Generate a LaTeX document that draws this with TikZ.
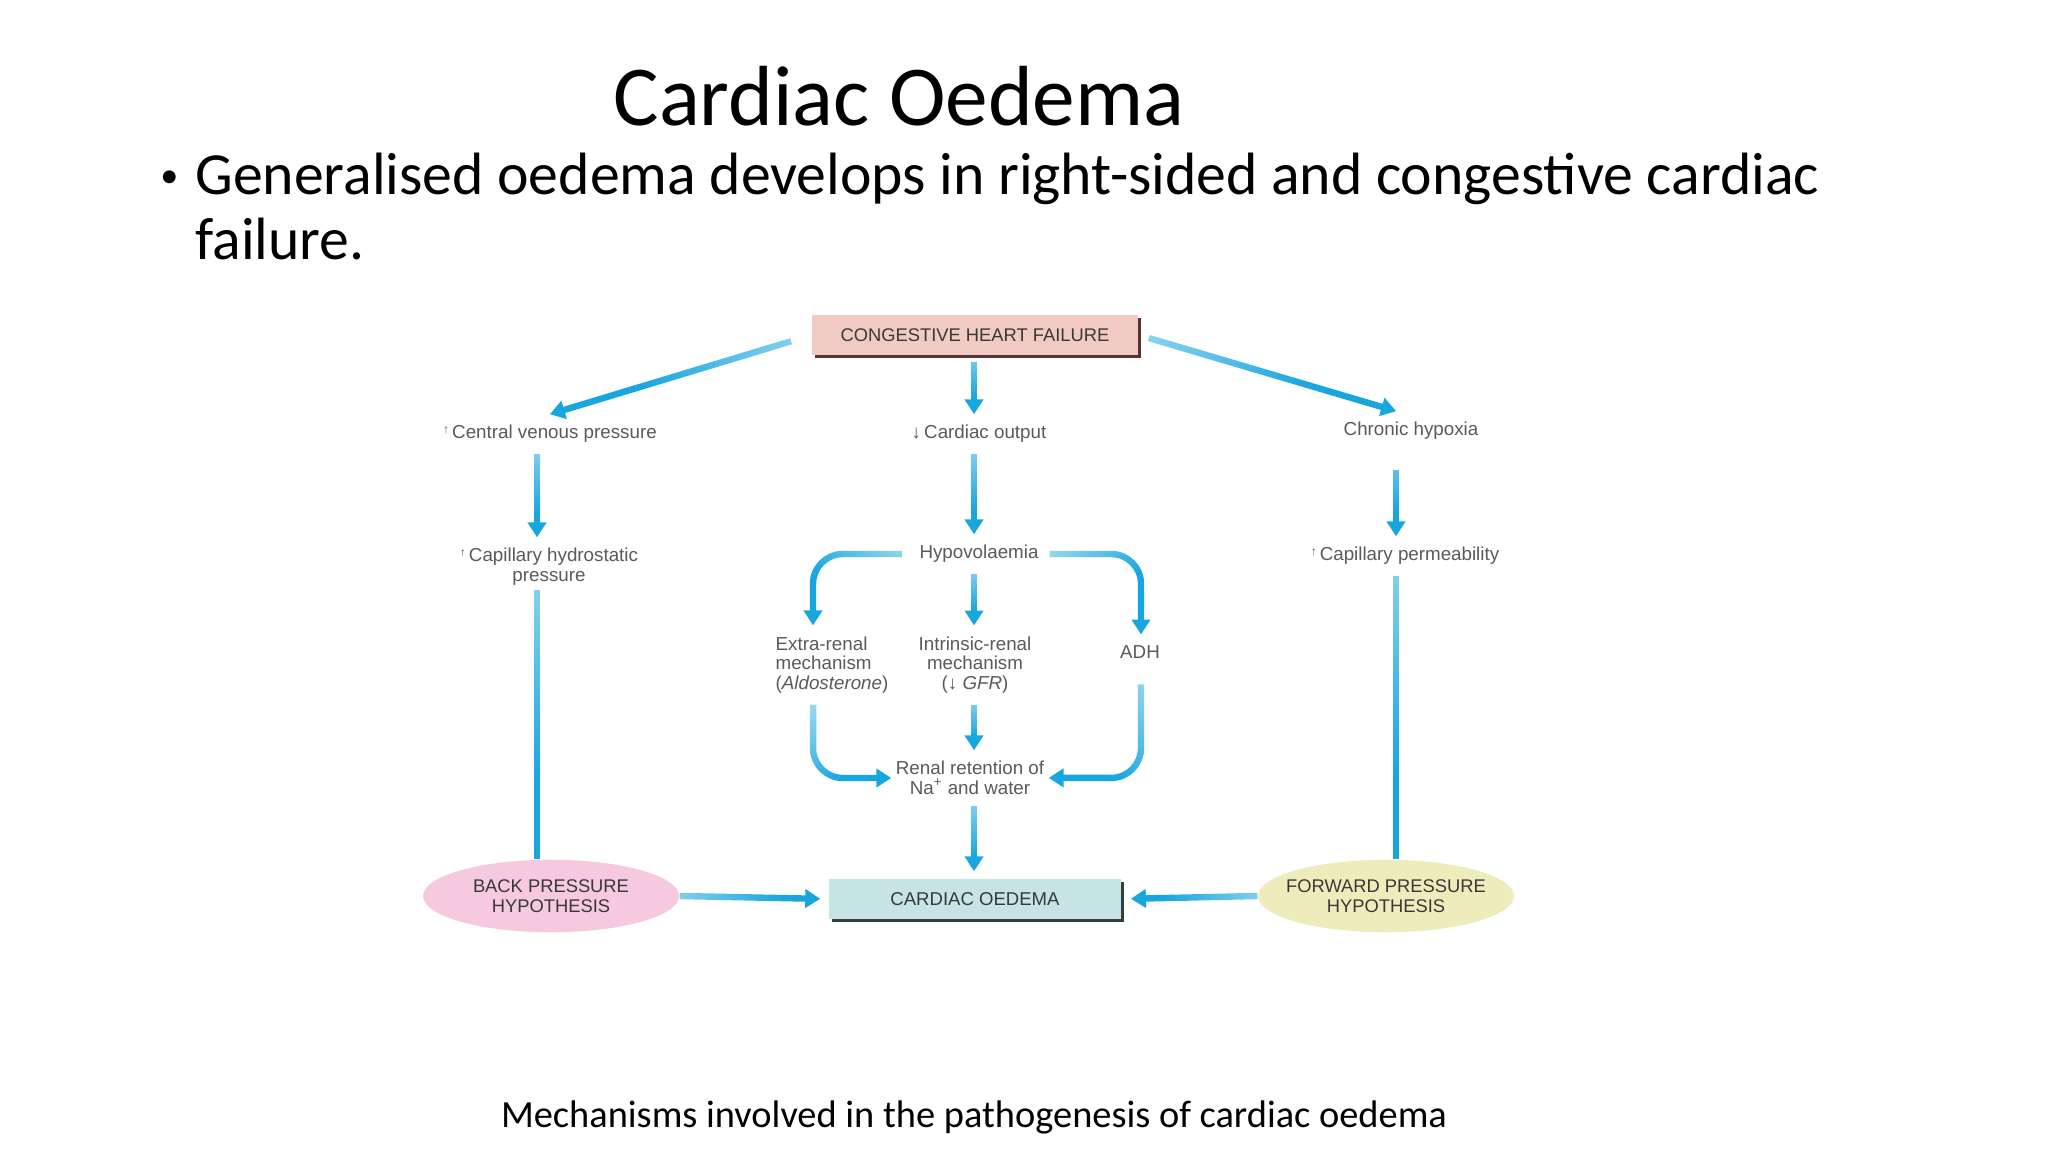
\documentclass[tikz,border=0pt]{standalone}
\usepackage{fontspec}
\setmainfont{Carlito}
\newfontfamily\diagfont{Liberation Sans}
\usetikzlibrary{arrows.meta,shapes.geometric,shadows,fadings}
\definecolor{arrc}{HTML}{17A6DE}
\definecolor{txtc}{HTML}{5A5A5A}
\definecolor{chfpink}{HTML}{F2CAC4}
\definecolor{chfshadow}{HTML}{5A3434}
\definecolor{cobox}{HTML}{C6E4E6}
\definecolor{coshadow}{HTML}{34403F}
\definecolor{backpink}{HTML}{F6C9DE}
\definecolor{fwdyellow}{HTML}{EFECBC}
\definecolor{boxtxt}{HTML}{383838}
\newcommand\smallup{\raisebox{2.5pt}{\fontsize{5.5}{5.5}\selectfont ↑}}

\begin{tikzfadingfrompicture}[name=arrfade]
  \fill[transparent!80] (-300bp,-300bp) rectangle (-50bp,300bp);
  \shade[left color=transparent!80, right color=transparent!0] (-50bp,-300bp) rectangle (10bp,300bp);
  \fill[transparent!0] (10bp,-300bp) rectangle (300bp,300bp);
\end{tikzfadingfrompicture}

\begin{document}
\begin{tikzpicture}[x=0.46875pt, y=-0.46875pt,
  lbl/.style={font=\diagfont\fontsize{8.8}{9.3}\selectfont, text=txtc, inner xsep=2pt, inner ysep=5pt, align=center},
  boxlbl/.style={font=\diagfont\fontsize{8.6}{9.2}\selectfont, text=boxtxt, align=center},
  ellnode/.style={boxlbl, ellipse, minimum width=120pt, minimum height=34pt, inner xsep=-8pt, inner ysep=0pt},
  arr/.style={draw=arrc, line width=3pt, -{Triangle[width=8.5pt,length=7pt]}, path fading=arrfade},
  ln/.style={draw=arrc, line width=3pt, path fading=arrfade}
]
\useasboundingbox[fill=white] (0,0) rectangle (2048,1152);

% slide texts
\node[anchor=base, font=\fontsize{40}{46}\selectfont, text=black] (title) at (899,126) {Cardiac Oedema};
\node[anchor=base west, font=\fontsize{17}{20}\selectfont, inner sep=0] (bul) at (160,188) {•};
\node[anchor=base west, font=\fontsize{28}{32}\selectfont, inner sep=0] (l1) at (195,195) {Generalised oedema develops in right-sided and congestive cardiac};
\node[anchor=base west, font=\fontsize{28}{32}\selectfont, inner sep=0] (l2) at (195,260) {failure.};
\node[anchor=base, font=\fontsize{18}{22}\selectfont, inner sep=0] (cap) at (974,1127) {Mechanisms involved in the pathogenesis of cardiac oedema};

% columns
\coordinate (colL) at (537,0);
\coordinate (colC) at (974,0);
\coordinate (colR) at (1396,0);
\coordinate (xEx) at (813,0);
\coordinate (xAdh) at (1141,0);

% boxes
\node[boxlbl, fill=chfpink, minimum width=152.8pt, minimum height=18.75pt, inner sep=0,
  drop shadow={shadow xshift=1.3pt, shadow yshift=-1.3pt, fill=chfshadow, opacity=1}] (chf) at (975,335) {CONGESTIVE HEART FAILURE};
\node[boxlbl, font=\diagfont\fontsize{8.7}{9.2}\selectfont, fill=cobox, minimum width=136.9pt, minimum height=18.75pt, inner sep=0,
  drop shadow={shadow xshift=1.3pt, shadow yshift=-1.3pt, fill=coshadow, opacity=1}] (cob) at (975,899) {CARDIAC OEDEMA};
\node[ellnode, fill=backpink] (back) at (551,896) {BACK PRESSURE\\HYPOTHESIS};
\node[ellnode, fill=fwdyellow] (fwd) at (1386,896) {FORWARD PRESSURE\\HYPOTHESIS};

% labels
\node[lbl] (cvp) at (550,434) {\smallup\,Central venous pressure};
\node[lbl] (co) at (979,434) {↓\,Cardiac output};
\node[lbl] (hyp) at (1411,431) {Chronic hypoxia};
\node[lbl] (caph) at (549,567) {\smallup\,Capillary hydrostatic\\pressure};
\node[lbl] (hypo) at (979,554) {Hypovolaemia};
\node[lbl] (capp) at (1405,556) {\smallup\,Capillary permeability};
\node[lbl, align=left] (extra) at (832,665) {Extra-renal\\mechanism\\(\textit{Aldosterone})};
\node[lbl] (intr) at (975,665) {Intrinsic-renal\\mechanism\\(↓ \textit{GFR})};
\node[lbl] (adh) at (1140,652) {ADH};
\node[lbl] (renal) at (970,778) {Renal retention of\\Na\textsuperscript{+} and water};

% connectors
\draw[arr, fading angle=-163, shorten <=10pt] (chf.west) -- (cvp.north);
\draw[arr, fading angle=-90, shorten <=3pt] (chf.south -| colC) -- (co.north -| colC);
\draw[arr, fading angle=-17, shorten <=5pt] (chf.east) -- (hyp.north -| colR);
\draw[arr, fading angle=-90] (cvp.south -| colL) -- (caph.north -| colL);
\draw[arr, fading angle=-90] (co.south -| colC) -- (hypo.north -| colC);
\draw[arr, fading angle=-90, shorten <=9pt] (hyp.south -| colR) -- (capp.north -| colR);
\draw[ln, fading angle=-90, shorten <=-3pt] (caph.south -| colL) -- (back.north -| colL);
\draw[ln, fading angle=-90] (capp.south -| colR) -- (fwd.north -| colR);
\draw[arr, fading angle=-138, rounded corners=14pt, shorten <=6pt] (hypo.west) -| (extra.north -| xEx);
\draw[arr, fading angle=-42, rounded corners=14pt, shorten <=3pt] (hypo.east) -| (adh.north -| xAdh);
\draw[arr, fading angle=-90] (hypo.south -| colC) -- (intr.north -| colC);
\draw[arr, fading angle=-44, rounded corners=14pt] (extra.south -| xEx) |- (renal.west);
\draw[arr, fading angle=-134, rounded corners=14pt, shorten <=7pt] (adh.south -| xAdh) |- (renal.east);
\draw[arr, fading angle=-90] (intr.south -| colC) -- (renal.north -| colC);
\draw[arr, fading angle=-90, shorten >=3.5pt] (renal.south -| colC) -- (cob.north -| colC);
\draw[arr, fading angle=0, shorten >=4pt] (back.east) -- (cob.west);
\draw[arr, fading angle=180, shorten >=4.5pt] (fwd.west) -- (cob.east);
\end{tikzpicture}
\end{document}
